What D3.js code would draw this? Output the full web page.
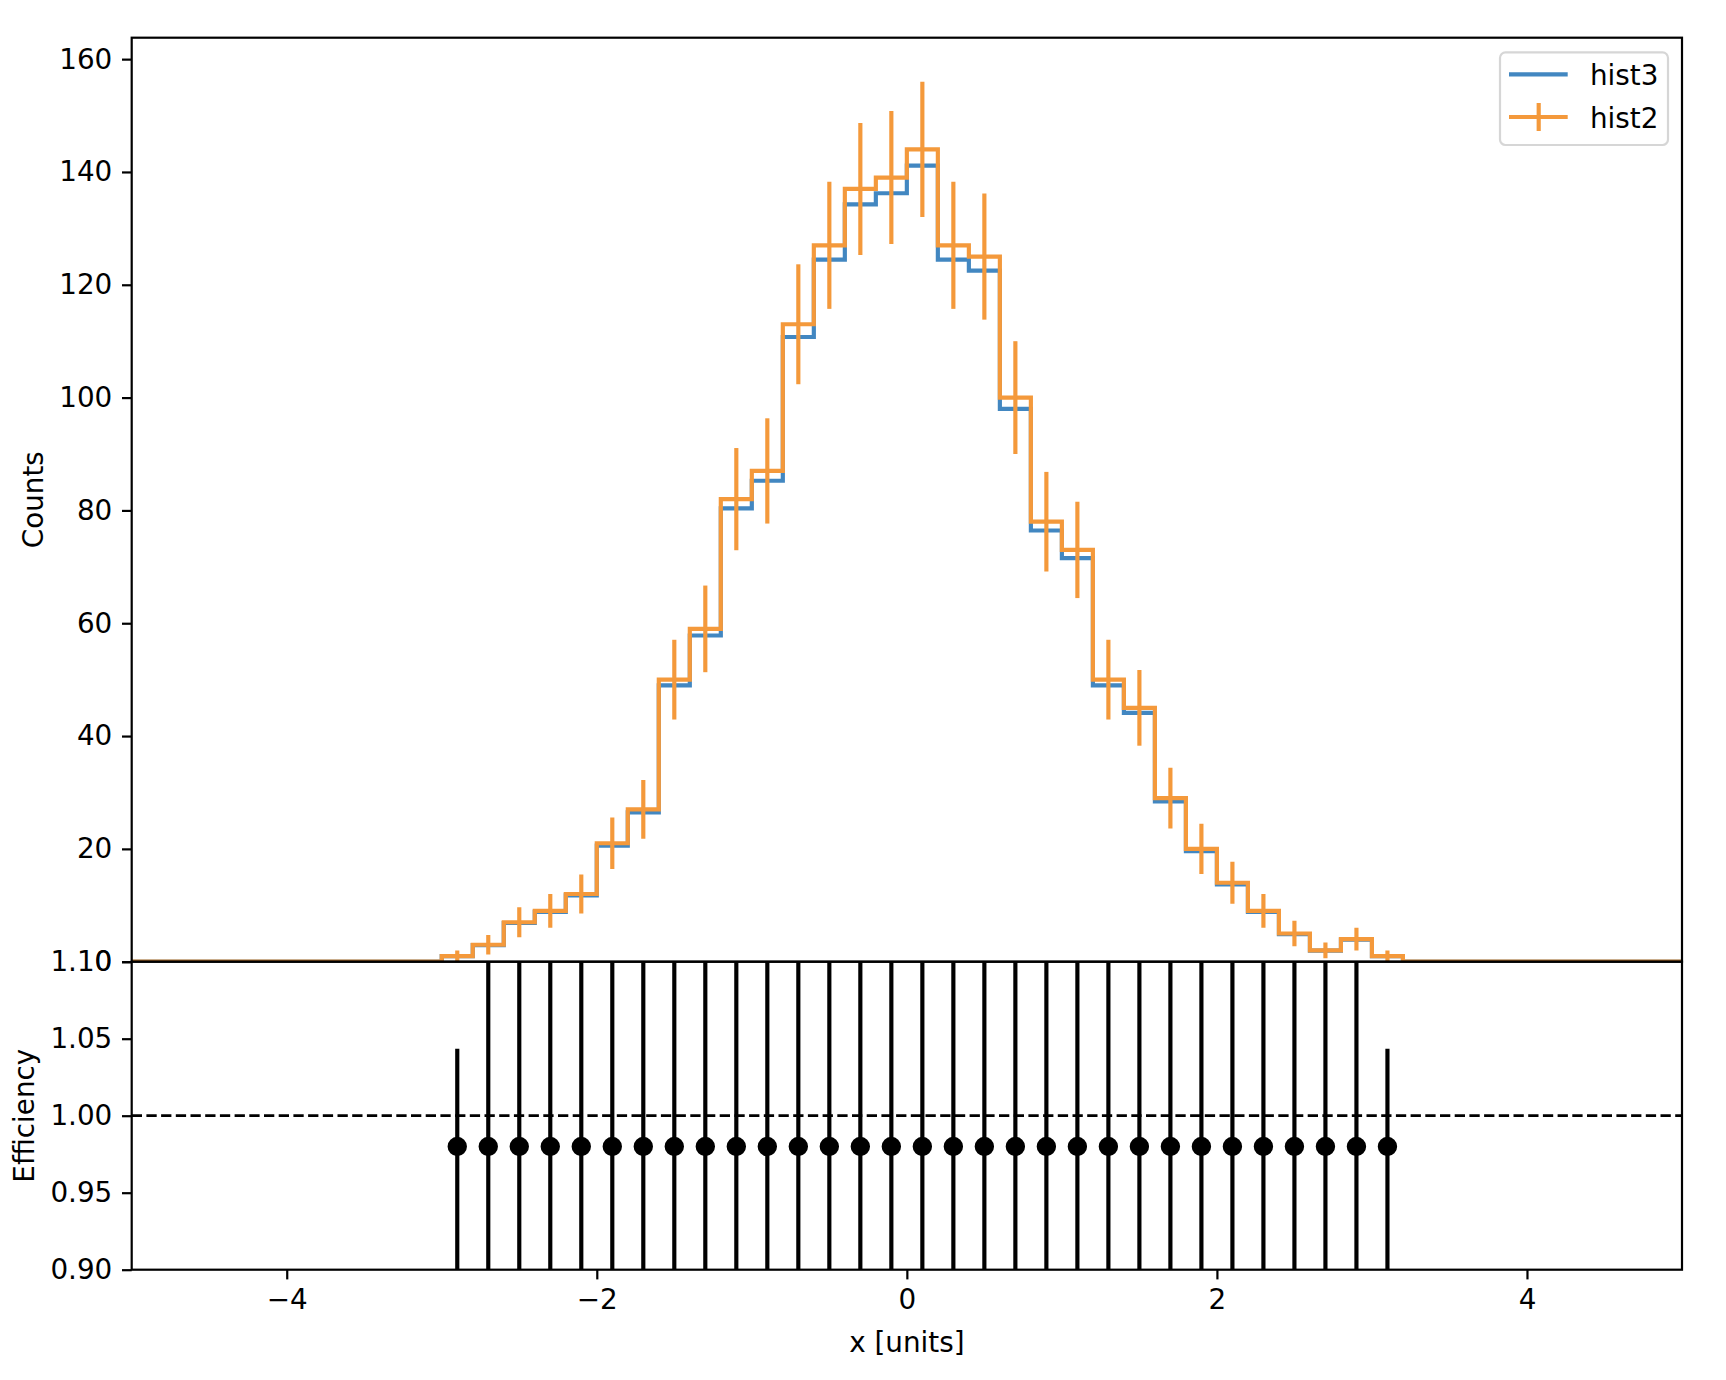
<!DOCTYPE html>
<html>
<head>
<meta charset="utf-8">
<script src="https://cdn.jsdelivr.net/npm/d3@7"></script>
<style>
body { margin: 0; background: #fff; }
text { font-family: "DejaVu Sans", sans-serif; }
</style>
</head>
<body>
<script>
// bin edges of both histograms
var edges = [-5.0, -4.8, -4.6, -4.4, -4.2, -4.0, -3.8, -3.6, -3.4, -3.2,
  -3.0, -2.8, -2.6, -2.4, -2.2, -2.0, -1.8, -1.6, -1.4, -1.2,
  -1.0, -0.8, -0.6, -0.4, -0.2, 0.0, 0.2, 0.4, 0.6, 0.8,
  1.0, 1.2, 1.4, 1.6, 1.8, 2.0, 2.2, 2.4, 2.6, 2.8,
  3.0, 3.2, 3.4, 3.6, 3.8, 4.0, 4.2, 4.4, 4.6, 4.8, 5.0];

var hist2 = [0, 0, 0, 0, 0, 0, 0, 0, 0, 0,
  1, 3, 7, 9, 12, 21, 27, 50, 59, 82,
  87, 113, 127, 137, 139, 144, 127, 125, 100, 78,
  73, 50, 45, 29, 20, 14, 9, 5, 2, 4,
  1, 0, 0, 0, 0, 0, 0, 0, 0, 0];

var hist2Err = [0, 0, 0, 0, 0, 0, 0, 0, 0, 0,
  1, 1.73, 2.65, 3, 3.46, 4.58, 5.2, 7.07, 7.68, 9.06,
  9.33, 10.63, 11.27, 11.7, 11.79, 12, 11.27, 11.18, 10, 8.83,
  8.54, 7.07, 6.71, 5.39, 4.47, 3.74, 3, 2.24, 1.41, 2,
  1, 0, 0, 0, 0, 0, 0, 0, 0, 0];

var hist3 = [0, 0, 0, 0, 0, 0, 0, 0, 0, 0,
  0.98, 2.94, 6.86, 8.82, 11.76, 20.58, 26.46, 49, 57.82, 80.36,
  85.26, 110.74, 124.46, 134.26, 136.22, 141.12, 124.46, 122.5, 98, 76.44,
  71.54, 49, 44.1, 28.42, 19.6, 13.72, 8.82, 4.9, 1.96, 3.92,
  0.98, 0, 0, 0, 0, 0, 0, 0, 0, 0];

var N = null;
var efficiency = [N, N, N, N, N, N, N, N, N, N,
  0.98, 0.98, 0.98, 0.98, 0.98, 0.98, 0.98, 0.98, 0.98, 0.98,
  0.98, 0.98, 0.98, 0.98, 0.98, 0.98, 0.98, 0.98, 0.98, 0.98,
  0.98, 0.98, 0.98, 0.98, 0.98, 0.98, 0.98, 0.98, 0.98, 0.98,
  0.98, N, N, N, N, N, N, N, N, N];

var effLow = [N, N, N, N, N, N, N, N, N, N,
  0.8, 0.8, 0.8, 0.8, 0.8, 0.8, 0.8, 0.8, 0.8, 0.8,
  0.8, 0.8, 0.8, 0.8, 0.8, 0.8, 0.8, 0.8, 0.8, 0.8,
  0.8, 0.8, 0.8, 0.8, 0.8, 0.8, 0.8, 0.8, 0.8, 0.8,
  0.8, N, N, N, N, N, N, N, N, N];

var effHigh = [N, N, N, N, N, N, N, N, N, N,
  1.0435, 1.2, 1.2, 1.2, 1.2, 1.2, 1.2, 1.2, 1.2, 1.2,
  1.2, 1.2, 1.2, 1.2, 1.2, 1.2, 1.2, 1.2, 1.2, 1.2,
  1.2, 1.2, 1.2, 1.2, 1.2, 1.2, 1.2, 1.2, 1.2, 1.2,
  1.0435, N, N, N, N, N, N, N, N, N];

var countTicks = [0, 20, 40, 60, 80, 100, 120, 140, 160];
var effTicks = [0.90, 0.95, 1.00, 1.05, 1.10];
var xTicks = [-4, -2, 0, 2, 4];
var seriesNames = ['hist3', 'hist2'];
var colours = ['#4287c1', '#f4993b'];

var w = 1726;
var h = 1380;
var left = 131.7, right = 1682;
var top1 = 37.7, bottom1 = 961.7, bottom2 = 1269.7;
var lw = 4.17;
var spineW = 2.2;
var tickLen = 9.7;
var fontSize = 27.8;

var svg = d3.select('body')
  .append('svg')
  .attr('width', w)
  .attr('height', h);

var xScale = d3.scaleLinear()
  .domain([edges[0], edges[edges.length - 1]])
  .range([left, right]);

var yMax = d3.max(hist2, function(d, i){ return d + hist2Err[i]; }) * 1.05;
var yScale = d3.scaleLinear()
  .domain([0, yMax])
  .range([bottom1, top1]);

var effScale = d3.scaleLinear()
  .domain([0.9, 1.1])
  .range([bottom2, bottom1]);

var centers = hist2.map(function(d, i){ return (edges[i] + edges[i + 1]) / 2; });

var defs = svg.append('defs');
defs.append('clipPath').attr('id', 'clipTop')
  .append('rect')
  .attr('x', left).attr('y', top1)
  .attr('width', right - left).attr('height', bottom1 - top1);
defs.append('clipPath').attr('id', 'clipBottom')
  .append('rect')
  .attr('x', left).attr('y', bottom1)
  .attr('width', right - left).attr('height', bottom2 - bottom1);

// step outline of a histogram
function stairs(values){
  var pts = [[edges[0], 0]];
  values.forEach(function(v, i){ pts.push([edges[i], v]); });
  pts.push([edges[edges.length - 1], values[values.length - 1]]);
  pts.push([edges[edges.length - 1], 0]);
  return d3.line()
    .x(function(d){ return xScale(d[0]); })
    .y(function(d){ return yScale(d[1]); })
    .curve(d3.curveStepAfter)(pts);
}

var topPanel = svg.append('g').attr('clip-path', 'url(#clipTop)');

topPanel.selectAll('path.hist')
  .data([hist3, hist2])
  .enter()
  .append('path')
  .attr('class', 'hist')
  .attr('d', function(d){ return stairs(d); })
  .attr('fill', 'none')
  .attr('stroke', function(d, i){ return colours[i]; })
  .attr('stroke-width', lw);

topPanel.selectAll('line.err')
  .data(hist2.map(function(d, i){ return {x: centers[i], y: d, e: hist2Err[i]}; })
    .filter(function(d){ return d.e > 0; }))
  .enter()
  .append('line')
  .attr('class', 'err')
  .attr('x1', function(d){ return xScale(d.x); })
  .attr('x2', function(d){ return xScale(d.x); })
  .attr('y1', function(d){ return yScale(d.y - d.e); })
  .attr('y2', function(d){ return yScale(d.y + d.e); })
  .attr('stroke', colours[1])
  .attr('stroke-width', lw);

// lower panel
var bottomPanel = svg.append('g').attr('clip-path', 'url(#clipBottom)');

bottomPanel.append('line')
  .attr('x1', left).attr('x2', right)
  .attr('y1', effScale(1)).attr('y2', effScale(1))
  .attr('stroke', 'black')
  .attr('stroke-width', 2.8)
  .attr('stroke-dasharray', '10.3,4.4');

var effData = efficiency.map(function(d, i){
  return {x: centers[i], y: d, lo: effLow[i], hi: effHigh[i]};
}).filter(function(d){ return d.y !== null; });

bottomPanel.selectAll('line.eff')
  .data(effData)
  .enter()
  .append('line')
  .attr('class', 'eff')
  .attr('x1', function(d){ return xScale(d.x); })
  .attr('x2', function(d){ return xScale(d.x); })
  .attr('y1', function(d){ return effScale(d.lo); })
  .attr('y2', function(d){ return effScale(d.hi); })
  .attr('stroke', 'black')
  .attr('stroke-width', lw);

bottomPanel.selectAll('circle')
  .data(effData)
  .enter()
  .append('circle')
  .attr('cx', function(d){ return xScale(d.x); })
  .attr('cy', function(d){ return effScale(d.y); })
  .attr('r', 8.3)
  .attr('fill', 'black')
  .attr('stroke', 'black')
  .attr('stroke-width', 2.8);

// axes
function styleAxis(g){
  g.select('.domain').remove();
  g.selectAll('.tick line').attr('stroke', 'black').attr('stroke-width', spineW);
  g.selectAll('.tick text')
    .attr('fill', 'black')
    .attr('font-size', fontSize)
    .attr('font-family', '"DejaVu Sans", sans-serif');
}

svg.append('g')
  .attr('transform', 'translate(' + left + ',0)')
  .call(d3.axisLeft(yScale).tickValues(countTicks).tickSize(tickLen).tickPadding(tickLen).tickFormat(d3.format('d')))
  .call(styleAxis);

svg.append('g')
  .attr('transform', 'translate(' + left + ',0)')
  .call(d3.axisLeft(effScale).tickValues(effTicks).tickSize(tickLen).tickPadding(tickLen).tickFormat(d3.format('.2f')))
  .call(styleAxis);

svg.append('g')
  .attr('transform', 'translate(0,' + bottom2 + ')')
  .call(d3.axisBottom(xScale).tickValues(xTicks).tickSize(tickLen).tickPadding(tickLen).tickFormat(d3.format('d')))
  .call(styleAxis);

// spines
[[top1, bottom1], [bottom1, bottom2]].forEach(function(p){
  svg.append('rect')
    .attr('x', left).attr('y', p[0])
    .attr('width', right - left).attr('height', p[1] - p[0])
    .attr('fill', 'none')
    .attr('stroke', 'black')
    .attr('stroke-width', spineW);
});

// axis labels
svg.append('text')
  .text('Counts')
  .attr('transform', 'translate(43,' + (top1 + bottom1) / 2 + ') rotate(-90)')
  .attr('text-anchor', 'middle')
  .attr('font-size', fontSize);

svg.append('text')
  .text('Efficiency')
  .attr('transform', 'translate(34,' + (bottom1 + bottom2) / 2 + ') rotate(-90)')
  .attr('text-anchor', 'middle')
  .attr('font-size', fontSize);

svg.append('text')
  .text('x [units]')
  .attr('x', (left + right) / 2)
  .attr('y', 1351.7)
  .attr('text-anchor', 'middle')
  .attr('font-size', fontSize);

// legend
var legend = svg.append('g');
legend.append('rect')
  .attr('x', 1500).attr('y', 52.3)
  .attr('width', 168).attr('height', 92.7)
  .attr('rx', 5.5)
  .attr('fill', 'white')
  .attr('fill-opacity', 0.8)
  .attr('stroke', '#d6d6d6')
  .attr('stroke-width', spineW);

var rows = legend.selectAll('g.row')
  .data(seriesNames)
  .enter()
  .append('g')
  .attr('class', 'row')
  .attr('transform', function(d, i){ return 'translate(0,' + (74.3 + i * 42.7) + ')'; });

rows.append('line')
  .attr('x1', 1509).attr('x2', 1567.7)
  .attr('y1', 0).attr('y2', 0)
  .attr('stroke', function(d, i){ return colours[i]; })
  .attr('stroke-width', lw);

rows.filter(function(d, i){ return i === 1; })
  .append('line')
  .attr('x1', 1538.7).attr('x2', 1538.7)
  .attr('y1', -14).attr('y2', 14)
  .attr('stroke', colours[1])
  .attr('stroke-width', lw);

rows.append('text')
  .text(function(d){ return d; })
  .attr('x', 1590)
  .attr('y', 10.5)
  .attr('font-size', fontSize);
</script>
</body>
</html>
